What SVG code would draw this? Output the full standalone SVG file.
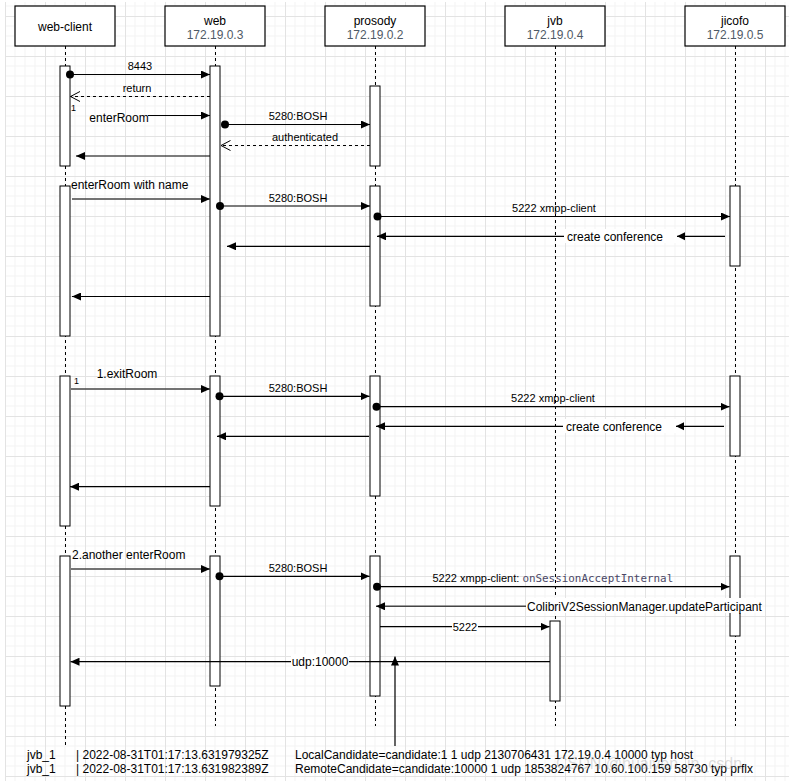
<svg xmlns="http://www.w3.org/2000/svg" width="789" height="781" viewBox="0 0 789 781">
<defs>
<pattern id="grid" x="5" y="16" width="40" height="40" patternUnits="userSpaceOnUse">
<path d="M10,0V40M20,0V40M30,0V40M0,10H40M0,20H40M0,30H40" stroke="#f3f3f3" stroke-width="1" fill="none"/>
<path d="M0.5,0V40M0,0.5H40" stroke="#e3e3e3" stroke-width="1" fill="none"/>
</pattern>
<marker id="blk" viewBox="0 0 9 8" refX="9" refY="4" markerWidth="9" markerHeight="8" markerUnits="userSpaceOnUse" orient="auto">
<path d="M0,0L9,4L0,8z" fill="#000"/>
</marker>
<marker id="open" viewBox="0 0 11 11" refX="10" refY="5.5" markerWidth="11" markerHeight="11" markerUnits="userSpaceOnUse" orient="auto">
<path d="M0.5,0.5L10,5.5L0.5,10.5" fill="none" stroke="#000" stroke-width="1"/>
</marker>
</defs>
<style>
text{font-family:"Liberation Sans",Arial,sans-serif;fill:#000}
.hd{font-size:12px;text-anchor:middle}
.ip{font-size:12px;text-anchor:middle;fill:#4f5a66}
.lb{font-size:11px;text-anchor:middle}
.lb12{font-size:12px;text-anchor:middle}
.box{fill:#fff;stroke:#000;stroke-width:1.2}
.bar{fill:#fff;stroke:#000;stroke-width:1}
.life{stroke:#000;stroke-width:1;stroke-dasharray:3 3;fill:none}
.m{stroke:#000;stroke-width:1.2;fill:none;marker-end:url(#blk)}
.g{stroke:#444;stroke-width:1.4;fill:none;marker-end:url(#blk)}
.d{stroke:#000;stroke-width:1;stroke-dasharray:3 3;fill:none;marker-end:url(#open)}
.bg{fill:#fff}
.small{font-size:9px}
.log{font-size:12px}
</style>
<rect x="0" y="0" width="789" height="781" fill="#fff"/>
<rect x="5" y="2" width="784" height="779" fill="url(#grid)"/>

<g id="lifelines">
<path class="life" d="M65.5,46V745"/>
<path class="life" d="M215.5,46V726"/>
<path class="life" d="M375.5,46V726"/>
<path class="life" d="M555.5,46V726"/>
<path class="life" d="M735.5,46V726"/>
</g>

<g id="web-client">
<rect class="box" x="15" y="6" width="100" height="40"/>
<text class="hd" x="65" y="30.5">web-client</text>
<rect class="bar" x="60" y="66" width="10" height="100"/>
<rect class="bar" x="60" y="186" width="10" height="150"/>
<rect class="bar" x="60" y="376" width="10" height="150"/>
<rect class="bar" x="60" y="556" width="10" height="150"/>
</g>
<g id="web">
<rect class="box" x="165" y="6" width="100" height="40"/>
<text class="hd" x="215" y="25">web</text>
<text class="ip" x="215" y="38.5">172.19.0.3</text>
<rect class="bar" x="210" y="66" width="10" height="270"/>
<rect class="bar" x="210" y="376" width="10" height="130"/>
<rect class="bar" x="210" y="556" width="10" height="130"/>
</g>
<g id="prosody">
<rect class="box" x="325" y="6" width="100" height="40"/>
<text class="hd" x="375" y="25">prosody</text>
<text class="ip" x="375" y="38.5">172.19.0.2</text>
<rect class="bar" x="370" y="86" width="10" height="80"/>
<rect class="bar" x="370" y="186" width="10" height="120"/>
<rect class="bar" x="370" y="376" width="10" height="120"/>
<rect class="bar" x="370" y="556" width="10" height="140"/>
</g>
<g id="jvb">
<rect class="box" x="505" y="6" width="100" height="40"/>
<text class="hd" x="555" y="25">jvb</text>
<text class="ip" x="555" y="38.5">172.19.0.4</text>
<rect class="bar" x="550" y="621" width="10" height="80"/>
</g>
<g id="jicofo">
<rect class="box" x="685" y="6" width="100" height="40"/>
<text class="hd" x="735" y="25">jicofo</text>
<text class="ip" x="735" y="38.5">172.19.0.5</text>
<rect class="bar" x="730" y="186" width="10" height="80"/>
<rect class="bar" x="730" y="376" width="10" height="80"/>
<rect class="bar" x="730" y="556" width="10" height="80"/>
</g>

<g id="connectors">
<!-- group 1 -->
<circle cx="70" cy="74.5" r="4"/>
<path class="m" d="M70,74.5H210"/>
<text class="lb" x="140" y="70">8443</text>
<path class="d" d="M210,96.5H70.5"/>
<text class="lb" x="137" y="91.5">return</text>
<text class="small" x="71" y="111">1</text>
<path class="m" d="M148,115.5H210"/>
<text class="lb12" x="119" y="122.3">enterRoom</text>
<circle cx="225" cy="124.5" r="4"/>
<path class="m" d="M225,124.5H370"/>
<text class="lb" x="298" y="120">5280:BOSH</text>
<path class="d" d="M370,145.5H221"/>
<text class="lb" x="305" y="141">authenticated</text>
<path class="m" d="M210,156H76"/>

<!-- group 2 -->
<path class="g" d="M72,199H210"/>
<text class="lb12" x="71" y="188.5" text-anchor="start" style="text-anchor:start">enterRoom with name</text>
<circle cx="220" cy="206" r="4"/>
<path class="m" d="M220,206H370"/>
<text class="lb" x="298" y="202">5280:BOSH</text>
<circle cx="377.5" cy="216.5" r="4"/>
<path class="m" d="M377.5,216.5H730"/>
<text class="lb" x="554" y="212">5222 xmpp-client</text>
<path class="m" d="M725,236.3H377"/>
<rect class="bg" x="564" y="229" width="113" height="14"/>
<path d="M677,236.3L685,232.3L685,240.3z" fill="#000"/>
<text class="lb12" x="615" y="240.5">create conference</text>
<path class="m" d="M370,246.3H227"/>
<path class="m" d="M210,296.5H72"/>

<!-- group 3 -->
<path class="g" d="M71,389H210"/>
<text class="small" x="74" y="384">1</text>
<text class="lb12" x="127" y="378">1.exitRoom</text>
<circle cx="219.5" cy="396.3" r="4"/>
<path class="m" d="M219.5,396.3H369.5"/>
<text class="lb" x="298" y="392">5280:BOSH</text>
<circle cx="376.5" cy="406.7" r="4"/>
<path class="m" d="M376.5,406.7H729.5"/>
<text class="lb" x="553" y="402">5222 xmpp-client</text>
<path class="m" d="M724,426.3H376"/>
<rect class="bg" x="563" y="419" width="113" height="14"/>
<path d="M676,426.3L684,422.3L684,430.3z" fill="#000"/>
<text class="lb12" x="614" y="430.5">create conference</text>
<path class="m" d="M369,436.3H217"/>
<path class="m" d="M210,486.7H70"/>

<!-- group 4 -->
<path class="g" d="M71,569H210"/>
<text class="lb12" x="72" y="558.5" style="text-anchor:start">2.another enterRoom</text>
<circle cx="219.5" cy="576.3" r="4"/>
<path class="m" d="M219.5,576.3H369.5"/>
<text class="lb" x="298" y="572">5280:BOSH</text>
<circle cx="377" cy="586.7" r="4"/>
<path class="m" d="M377,586.7H729.5"/>
<text x="432.5" y="582" style="font-size:11px">5222 xmpp-client: <tspan style="font-family:'DejaVu Sans Mono',monospace;font-size:10.9px;fill:#4a4766">onSessionAcceptInternal</tspan></text>
<path class="g" d="M527,606.3H376"/>
<rect class="bg" x="526" y="598" width="236" height="15"/>
<text class="lb12" x="527" y="610.6" style="text-anchor:start">ColibriV2SessionManager.updateParticipant</text>
<path class="m" d="M380,626.7H549.5"/>
<rect class="bg" x="452" y="620" width="26" height="13"/>
<text class="lb" x="465" y="630.5">5222</text>
<path class="m" d="M550,661.7H70.5"/>
<rect class="bg" x="291" y="654" width="58" height="15"/>
<text class="lb12" x="320" y="666">udp:10000</text>
<path class="m" d="M395,746V656.5"/>
</g>

<g id="log">
<text class="log" x="27" y="759">jvb_1</text>
<text class="log" x="76" y="759">| 2022-08-31T01:17:13.631979325Z</text>
<text class="log" x="295" y="759">LocalCandidate=candidate:1 1 udp 2130706431 172.19.0.4 10000 typ host</text>
<text class="log" x="27" y="773">jvb_1</text>
<text class="log" x="76" y="773">| 2022-08-31T01:17:13.631982389Z</text>
<text class="log" x="295" y="773">RemoteCandidate=candidate:10000 1 udp 1853824767 10.60.100.159 58730 typ prflx</text>
<text x="556" y="769" style="font-size:16px;fill:#999;fill-opacity:0.35">CSDN @huaiyen_in_csdn</text>
</g>
</svg>
